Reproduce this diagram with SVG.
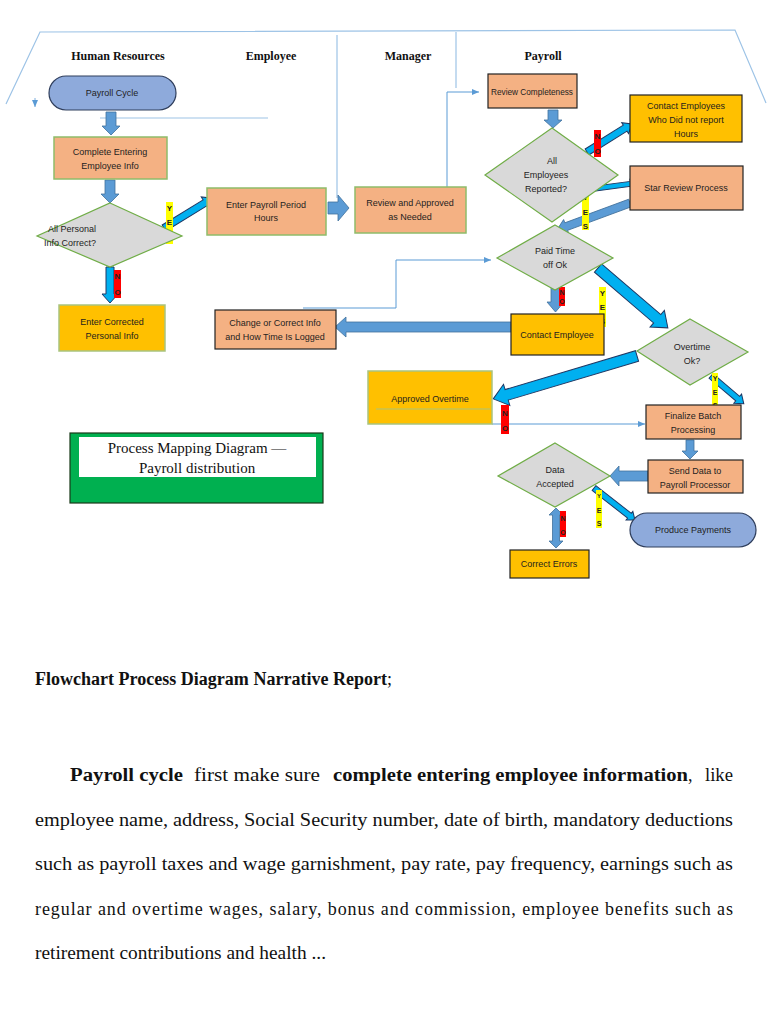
<svg xmlns="http://www.w3.org/2000/svg" width="768" height="1024" viewBox="0 0 768 1024">
<style>
.lane{fill:none;stroke:#9dc3e6;stroke-width:1.2}
.hdr{font-family:"Liberation Serif",serif;font-weight:bold;font-size:12px;fill:#111;text-anchor:middle}
.t{font-family:"Liberation Sans","Noto Sans",sans-serif;font-size:9px;fill:#1e1e1e;text-anchor:middle}
.or{fill:#f4b183;stroke:#222;stroke-width:1.2}
.org{fill:#f4b183;stroke:#8fbc6a;stroke-width:1.5}
.gd{fill:#ffc000;stroke:#222;stroke-width:1.2}
.gdg{fill:#ffc000;stroke:#a9c47f;stroke-width:1.5}
.dm{fill:#d9d9d9;stroke:#70ad47;stroke-width:1.2}
.pill{fill:#8eaadb;stroke:#2f3e5c;stroke-width:1.2}
.st{fill:#5b9bd5;stroke:#41719c;stroke-width:0.8}
.cy{fill:#00b0f0;stroke:#1f3864;stroke-width:1}
.thin{fill:none;stroke:#5b9bd5;stroke-width:1;marker-end:url(#ah)}
.yes{fill:#ffff00}
.no{fill:#ff0000}
.lt{font-family:"Liberation Sans",sans-serif;font-size:8px;font-weight:bold;fill:#222;text-anchor:middle}
.body{font-family:"Liberation Serif",serif;font-size:18px;fill:#111}
</style>
<defs>
<marker id="ah" markerWidth="8" markerHeight="8" refX="7" refY="4" orient="auto" markerUnits="userSpaceOnUse">
<path d="M0,1 L7,4 L0,7 Z" fill="#5b9bd5"/>
</marker>
</defs>
<rect width="768" height="1024" fill="#fff"/>

<g id="lanes">
<path class="lane" d="M6,104 L40,32 L735,30 L766,103"/>
<path class="lane" d="M337,35 V198"/>
<path class="lane" d="M456,32 V88"/>
<path class="lane" d="M100,118 H268"/>
<text class="hdr" x="118" y="60">Human Resources</text>
<text class="hdr" x="271" y="60">Employee</text>
<text class="hdr" x="408" y="60">Manager</text>
<text class="hdr" x="543" y="60">Payroll</text>
</g>

<g id="connectors">
<path class="thin" d="M35,98 V107" style="stroke-width:0.8"/>
<path class="thin" d="M447,200 V92 H479"/>
<path class="thin" d="M303,308 H396 V260 H491"/>
<path class="thin" d="M492,424 H645"/>
<path class="st" d="M106,112 H116 V126 H120 L111,135 L102,126 H106 Z"/>
<path class="st" d="M105,180 H115 V194 H119 L110,203 L101,194 H105 Z"/>
<path class="cy" d="M106,267 H114 V294 H118 L110,303 L102,294 H106 Z"/>
<path class="cy" transform="translate(164,228) rotate(-31.5)" d="M0,-3.5 H48 V-7 L57,0 L48,7 V3.5 H0 Z"/>
<path class="st" d="M328,202 H338 V195 L349,208 L338,221 V214 H328 Z"/>
<path class="st" d="M548,110 H558 V120 H562 L553,128 L544,120 H548 Z"/>
<path class="cy" transform="translate(587,152) rotate(-32)" d="M0,-3.5 H45 V-6.5 L53,0 L45,6.5 V3.5 H0 Z"/>
<path class="cy" transform="translate(577,191) rotate(-7.6)" d="M0,-2.5 H54 V-4.5 L60,0 L54,4.5 V2.5 H0 Z"/>
<path class="st" transform="translate(630,203) rotate(159.7)" d="M0,-4 H68 V-7.5 L78,0 L68,7.5 V4 H0 Z"/>
<path class="st" d="M551,284 H560 V302 H564 L555.5,312 L547,302 H551 Z"/>
<path class="cy" transform="translate(598,268) rotate(40.6)" d="M0,-5.5 H78 V-11 L92,0 L78,11 V5.5 H0 Z"/>
<path class="st" d="M511,322 H346 V317 L335,327 L346,337 V332 H511 Z"/>
<path class="cy" transform="translate(637,356) rotate(163.4)" d="M0,-5.5 H136 V-11 L150,0 L136,11 V5.5 H0 Z"/>
<path class="cy" transform="translate(711,376) rotate(40.3)" d="M0,-3 H35 V-6 L43,0 L35,6 V3 H0 Z"/>
<path class="st" d="M686,440 H694 V451 H698 L690,459 L682,451 H686 Z"/>
<path class="st" d="M648,471 H619 V466 L610,476 L619,486 V481 H648 Z"/>
<path class="st" d="M556,508 L563,515 H559.5 V541 H563 L556,548 L549,541 H552.5 V515 H549 Z"/>
<path class="cy" transform="translate(594,488) rotate(38)" d="M0,-3 H45 V-5.5 L52,0 L45,5.5 V3 H0 Z"/>
</g>

<g id="labels">
<rect class="yes" x="166" y="202" width="7" height="42"/>
<text class="lt" x="169.5" y="211">Y</text><text class="lt" x="169.5" y="225">E</text><text class="lt" x="169.5" y="240">S</text>
<rect class="no" x="114" y="270" width="7" height="28"/>
<text class="lt" x="117.5" y="279">N</text><text class="lt" x="117.5" y="295">O</text>
<rect class="no" x="594" y="130" width="7" height="27"/>
<text class="lt" x="597.5" y="139">N</text><text class="lt" x="597.5" y="154">O</text>
<rect class="yes" x="582" y="190" width="7" height="40"/>
<text class="lt" x="585.5" y="200">Y</text><text class="lt" x="585.5" y="215">E</text><text class="lt" x="585.5" y="229">S</text>
<rect class="no" x="559" y="287" width="6" height="19"/>
<text class="lt" x="562" y="295" style="font-size:7px">N</text><text class="lt" x="562" y="304" style="font-size:7px">O</text>
<rect class="yes" x="599" y="287" width="7" height="40"/>
<text class="lt" x="602.5" y="296">Y</text><text class="lt" x="602.5" y="310">E</text><text class="lt" x="602.5" y="324">S</text>
<rect class="no" x="501" y="405" width="8" height="29"/>
<text class="lt" x="505" y="416">N</text><text class="lt" x="505" y="431">O</text>
<rect class="yes" x="712" y="373" width="6" height="37"/>
<text class="lt" x="715" y="381" style="font-size:7px">Y</text><text class="lt" x="715" y="395" style="font-size:7px">E</text><text class="lt" x="715" y="408" style="font-size:7px">S</text>
<rect class="no" x="560" y="511" width="6" height="26"/>
<text class="lt" x="563" y="521" style="font-size:7px">N</text><text class="lt" x="563" y="535" style="font-size:7px">O</text>
<rect class="yes" x="596" y="490" width="6" height="38"/>
<text class="lt" x="599" y="498" style="font-size:6px">Y</text><text class="lt" x="599" y="513" style="font-size:7px">E</text><text class="lt" x="599" y="526" style="font-size:7px">S</text>
</g>

<g id="payroll-cycle">
<rect class="pill" x="49" y="76" width="127" height="34" rx="17"/>
<text class="t" x="112" y="96">Payroll Cycle</text>
</g>
<g id="complete-entering">
<rect class="org" x="54" y="137" width="113" height="42"/>
<text class="t" x="110" y="155">Complete Entering</text>
<text class="t" x="110" y="169">Employee Info</text>
</g>
<g id="all-personal">
<polygon class="dm" points="110,203 182,236 110,267 37,236"/>
<text class="t" x="48" y="232" style="text-anchor:start">All Personal</text>
<text class="t" x="44" y="246" style="text-anchor:start">Info Correct?</text>
</g>
<g id="enter-corrected">
<rect class="gdg" x="59" y="305" width="106" height="46"/>
<text class="t" x="112" y="325">Enter Corrected</text>
<text class="t" x="112" y="339">Personal Info</text>
</g>
<g id="enter-payroll">
<rect class="org" x="207" y="188" width="119" height="47"/>
<text class="t" x="266" y="208">Enter Payroll Period</text>
<text class="t" x="266" y="221">Hours</text>
</g>
<g id="review-approved">
<rect class="org" x="355" y="187" width="111" height="46"/>
<text class="t" x="410" y="206">Review and Approved</text>
<text class="t" x="410" y="220">as Needed</text>
</g>
<g id="review-completeness">
<rect class="or" x="488" y="74" width="89" height="34"/>
<text class="t" x="532" y="95" textLength="82" lengthAdjust="spacingAndGlyphs">Review Completeness</text>
</g>
<g id="all-employees">
<polygon class="dm" points="552,128 618,175 552,222 485,175"/>
<text class="t" x="552" y="164">All</text>
<text class="t" x="546" y="178">Employees</text>
<text class="t" x="546" y="192">Reported?</text>
</g>
<g id="contact-employees">
<rect class="gd" x="630" y="95" width="112" height="47"/>
<text class="t" x="686" y="109">Contact Employees</text>
<text class="t" x="686" y="123">Who Did not report</text>
<text class="t" x="686" y="137">Hours</text>
</g>
<g id="star-review">
<rect class="or" x="630" y="166" width="113" height="44"/>
<text class="t" x="686" y="191">Star Review Process</text>
</g>
<g id="paid-time">
<polygon class="dm" points="555,225 613,258 555,290 497,258"/>
<text class="t" x="555" y="254">Paid Time</text>
<text class="t" x="555" y="268">off Ok</text>
</g>
<g id="contact-employee">
<rect class="gd" x="511" y="314" width="93" height="41"/>
<text class="t" x="557" y="338">Contact Employee</text>
</g>
<g id="change-correct">
<rect class="or" x="215" y="310" width="121" height="39"/>
<text class="t" x="275" y="326">Change or Correct Info</text>
<text class="t" x="275" y="340">and How Time Is Logged</text>
</g>
<g id="overtime">
<polygon class="dm" points="690,319 748,352 690,385 637,351"/>
<text class="t" x="692" y="350">Overtime</text>
<text class="t" x="692" y="364">Ok?</text>
</g>
<g id="approved-overtime">
<rect class="gdg" x="368" y="371" width="124" height="53"/>
<path d="M376,409 H490" stroke="#a9c47f" stroke-width="1.2"/>
<text class="t" x="430" y="402">Approved Overtime</text>
</g>
<g id="finalize-batch">
<rect class="or" x="646" y="405" width="95" height="34"/>
<text class="t" x="693" y="419">Finalize Batch</text>
<text class="t" x="693" y="433">Processing</text>
</g>
<g id="send-data">
<rect class="or" x="648" y="460" width="95" height="33"/>
<text class="t" x="695" y="474">Send Data to</text>
<text class="t" x="695" y="488">Payroll Processor</text>
</g>
<g id="data-accepted">
<polygon class="dm" points="555,443 610,476 555,507 498,476"/>
<text class="t" x="555" y="473">Data</text>
<text class="t" x="555" y="487">Accepted</text>
</g>
<g id="correct-errors">
<rect class="gd" x="510" y="550" width="79" height="28"/>
<text class="t" x="549" y="567">Correct Errors</text>
</g>
<g id="produce-payments">
<rect class="pill" x="630" y="513" width="126" height="34" rx="17"/>
<text class="t" x="693" y="533">Produce Payments</text>
</g>

<g id="title-box">
<rect x="70" y="433" width="253" height="70" fill="#00b050" stroke="#1a3a1a" stroke-width="1.2"/>
<rect x="79" y="437" width="237" height="40" fill="#fff"/>
<text x="197" y="453" style="font-family:'Liberation Serif',serif;font-size:15px;fill:#111;text-anchor:middle">Process Mapping Diagram —</text>
<text x="197" y="473" style="font-family:'Liberation Serif',serif;font-size:15px;fill:#111;text-anchor:middle">Payroll distribution</text>
</g>

<g id="narrative">
<text class="body" x="35" y="685"><tspan font-weight="bold" textLength="352" lengthAdjust="spacingAndGlyphs">Flowchart Process Diagram Narrative Report</tspan><tspan>;</tspan></text>
<text class="body" x="70" y="781" font-weight="bold" textLength="113" lengthAdjust="spacingAndGlyphs">Payroll cycle</text>
<text class="body" x="194" y="781" textLength="126" lengthAdjust="spacingAndGlyphs">first make sure</text>
<text class="body" x="333" y="781" font-weight="bold" textLength="355" lengthAdjust="spacingAndGlyphs">complete entering employee information</text>
<text class="body" x="688" y="781">,</text>
<text class="body" x="705" y="781" textLength="28" lengthAdjust="spacingAndGlyphs">like</text>
<text class="body" x="35" y="826" textLength="698" lengthAdjust="spacingAndGlyphs">employee name, address, Social Security number, date of birth, mandatory deductions</text>
<text class="body" x="35" y="870" textLength="698" lengthAdjust="spacingAndGlyphs">such as payroll taxes and wage garnishment, pay rate, pay frequency, earnings such as</text>
<text class="body" x="35" y="915" textLength="698" lengthAdjust="spacing">regular and overtime wages, salary, bonus and commission, employee benefits such as</text>
<text class="body" x="35" y="959" textLength="291" lengthAdjust="spacingAndGlyphs">retirement contributions and health ...</text>
</g>
</svg>
